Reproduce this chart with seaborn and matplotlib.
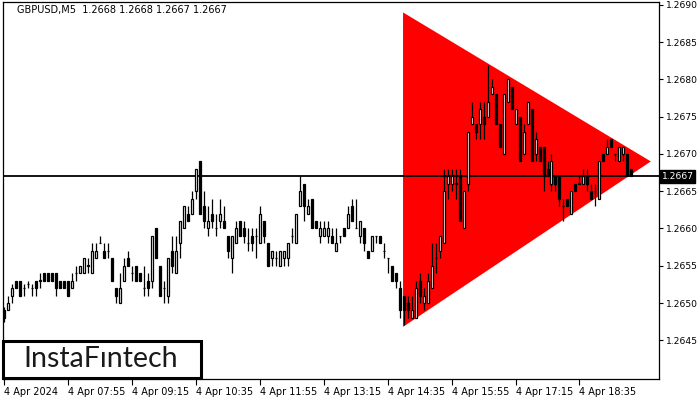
import numpy as np
import pandas as pd
import matplotlib
matplotlib.use("Agg")
import matplotlib.pyplot as plt
import matplotlib.transforms as mtransforms
from matplotlib.patches import Rectangle
import seaborn as sns

# ==============================
# DATOS (GBPUSD M5)
# ==============================
opens = [
    1.2649, 1.2649, 1.2651, 1.2653, 1.2653, 1.2652, 1.26525, 1.2652, 1.2653, 1.2653,
    1.2654, 1.2654, 1.2654, 1.2654, 1.2653, 1.2653, 1.2653, 1.2652, 1.2654, 1.2654,
    1.2654, 1.2655, 1.2654, 1.2656, 1.2658, 1.2657, 1.2657, 1.2656, 1.2652, 1.2650,
    1.2653, 1.2656, 1.2654, 1.2655, 1.2654, 1.2652, 1.2653, 1.2653, 1.2660, 1.2655,
    1.2652, 1.2651, 1.2657, 1.2654, 1.2658, 1.2660, 1.2662, 1.2662, 1.2665, 1.2669,
    1.2663, 1.2660, 1.2662, 1.2660, 1.2661, 1.2661, 1.2659, 1.2656, 1.2658, 1.2661,
    1.2660, 1.2658, 1.2659, 1.2659, 1.2658, 1.2661, 1.2658, 1.2656, 1.2656, 1.2655,
    1.2656, 1.2656, 1.2659, 1.2658, 1.2663, 1.2666, 1.2662, 1.2664, 1.2661, 1.2659,
    1.2659, 1.2659, 1.2659, 1.2657, 1.2659, 1.2660, 1.2660, 1.2663, 1.2660, 1.2659,
    1.2660, 1.2657, 1.2657, 1.2659, 1.2659, 1.2657, 1.2656, 1.2655, 1.2654, 1.2652,
    1.2651, 1.2650, 1.2648, 1.2648, 1.2653, 1.2650, 1.2650, 1.2652, 1.2656, 1.2657,
    1.2658, 1.2666, 1.2666, 1.2666, 1.2667, 1.2660, 1.2666, 1.2674, 1.2674, 1.2674,
    1.2675, 1.2675, 1.2678, 1.2678, 1.2674, 1.2670, 1.2677, 1.2679, 1.2674, 1.2675,
    1.2670, 1.2674, 1.2676, 1.2670, 1.2671, 1.2671, 1.2668, 1.2666, 1.2667, 1.2667,
    1.2663, 1.2664, 1.2662, 1.2666, 1.2666, 1.2666, 1.2667, 1.2665, 1.2665, 1.2664,
    1.2670, 1.2670, 1.2672, 1.2670, 1.2669, 1.2670, 1.2670, 1.2668,
]
highs = [
    1.26495, 1.2651, 1.26525, 1.2653, 1.2653, 1.26525, 1.2653, 1.26525, 1.2653, 1.2654,
    1.2654, 1.2654, 1.2654, 1.2654, 1.2653, 1.2653, 1.2653, 1.2654, 1.2655, 1.2655,
    1.2656, 1.2656, 1.2658, 1.2658, 1.2659, 1.2658, 1.2658, 1.2656, 1.2652, 1.2654,
    1.2656, 1.2657, 1.2655, 1.2655, 1.2654, 1.2655, 1.2654, 1.2659, 1.2660, 1.2655,
    1.2653, 1.2656, 1.2659, 1.2659, 1.2661, 1.2663, 1.2663, 1.2665, 1.2668, 1.2669,
    1.2665, 1.2663, 1.2664, 1.2662, 1.2664, 1.2663, 1.2659, 1.2659, 1.2661, 1.2661,
    1.2661, 1.2660, 1.2660, 1.2660, 1.2663, 1.2661, 1.2658, 1.2657, 1.2657, 1.2657,
    1.2657, 1.2658, 1.2660, 1.2662, 1.2667, 1.2666, 1.2664, 1.2664, 1.2661, 1.2661,
    1.2661, 1.2661, 1.2660, 1.2660, 1.2659, 1.2660, 1.2663, 1.2664, 1.2664, 1.2661,
    1.2660, 1.2657, 1.2659, 1.2659, 1.2659, 1.2658, 1.2656, 1.2655, 1.2654, 1.2653,
    1.2651, 1.2651, 1.2651, 1.2653, 1.2654, 1.2652, 1.2654, 1.2658, 1.2658, 1.2659,
    1.2668, 1.2668, 1.2668, 1.2668, 1.2668, 1.2665, 1.2673, 1.2677, 1.2674, 1.2677,
    1.2677, 1.2682, 1.2680, 1.2678, 1.2674, 1.2678, 1.2680, 1.2679, 1.2676, 1.2675,
    1.2674, 1.2677, 1.2676, 1.2673, 1.2671, 1.2671, 1.2669, 1.2670, 1.2667, 1.2667,
    1.2664, 1.2664, 1.2665, 1.2666, 1.2667, 1.2668, 1.2668, 1.2666, 1.2666, 1.2669,
    1.2670, 1.2672, 1.2672, 1.2670, 1.2671, 1.2671, 1.2670, 1.2668,
]
lows = [
    1.26475, 1.2649, 1.2650, 1.2652, 1.2651, 1.2651, 1.2652, 1.2651, 1.2651, 1.2652,
    1.2653, 1.2653, 1.2653, 1.2651, 1.2652, 1.2652, 1.2651, 1.2652, 1.2653, 1.2654,
    1.2654, 1.2654, 1.2654, 1.2656, 1.2658, 1.2656, 1.2656, 1.2653, 1.2650, 1.2650,
    1.2653, 1.2655, 1.2653, 1.2653, 1.2653, 1.2651, 1.2651, 1.2652, 1.2656, 1.2651,
    1.2650, 1.2650, 1.2654, 1.2654, 1.2656, 1.2660, 1.2661, 1.2662, 1.2664, 1.2662,
    1.2660, 1.2659, 1.2660, 1.2659, 1.2660, 1.2660, 1.2656, 1.2654, 1.2658, 1.2659,
    1.2658, 1.2657, 1.2657, 1.2656, 1.2658, 1.2658, 1.2655, 1.2655, 1.2655, 1.2655,
    1.2655, 1.2655, 1.2658, 1.2658, 1.2663, 1.2661, 1.2662, 1.2660, 1.2660, 1.2658,
    1.2659, 1.2658, 1.2658, 1.2657, 1.2658, 1.2659, 1.2660, 1.2661, 1.2660, 1.2658,
    1.2657, 1.2656, 1.2657, 1.2658, 1.2658, 1.2656, 1.2654, 1.2653, 1.2652, 1.2648,
    1.2647, 1.2648, 1.2648, 1.2648, 1.2650, 1.2649, 1.2650, 1.2652, 1.2654, 1.2656,
    1.2658, 1.2664, 1.2665, 1.2664, 1.2661, 1.2660, 1.2665, 1.2674, 1.2672, 1.2672,
    1.2672, 1.2675, 1.2678, 1.2674, 1.2671, 1.2670, 1.2677, 1.2676, 1.2674, 1.2669,
    1.2670, 1.2674, 1.2669, 1.2669, 1.2669, 1.2665, 1.2667, 1.2665, 1.2665, 1.2663,
    1.2661, 1.2663, 1.2662, 1.2665, 1.2666, 1.2666, 1.2665, 1.2664, 1.2663, 1.2664,
    1.2669, 1.2670, 1.2671, 1.2669, 1.2669, 1.2669, 1.2667, 1.2667,
]
closes = [
    1.2648, 1.2650, 1.2652, 1.2652, 1.2651, 1.2652, 1.26525, 1.2652, 1.2652, 1.2653,
    1.2653, 1.2653, 1.2653, 1.2652, 1.2652, 1.2652, 1.2651, 1.2653, 1.2654, 1.2655,
    1.2656, 1.2655, 1.2657, 1.2657, 1.2658, 1.2656, 1.2657, 1.2653, 1.2651, 1.2652,
    1.2655, 1.2655, 1.2654, 1.2653, 1.2653, 1.2652, 1.2652, 1.2659, 1.2656, 1.2651,
    1.2652, 1.2656, 1.2655, 1.2657, 1.2661, 1.2663, 1.2661, 1.2664, 1.2668, 1.2662,
    1.2661, 1.2661, 1.2661, 1.2660, 1.2662, 1.2660, 1.2657, 1.2659, 1.2660, 1.2659,
    1.2659, 1.2658, 1.2658, 1.2659, 1.2662, 1.2659, 1.2655, 1.2657, 1.2656, 1.2657,
    1.2657, 1.2658, 1.2659, 1.2662, 1.2665, 1.2663, 1.2663, 1.2660, 1.2660, 1.2660,
    1.2660, 1.2660, 1.2658, 1.2658, 1.2659, 1.2659, 1.2662, 1.2661, 1.2660, 1.2661,
    1.2658, 1.2656, 1.2659, 1.2659, 1.2658, 1.2657, 1.2656, 1.2653, 1.2653, 1.2649,
    1.2649, 1.2649, 1.2649, 1.2652, 1.2651, 1.2651, 1.2653, 1.2655, 1.2656, 1.2659,
    1.2665, 1.2667, 1.2667, 1.2666, 1.2661, 1.2665, 1.2673, 1.2675, 1.2673, 1.2676,
    1.2674, 1.2677, 1.2679, 1.2674, 1.2671, 1.2678, 1.2680, 1.2676, 1.2676, 1.2669,
    1.2673, 1.2677, 1.2669, 1.2672, 1.2669, 1.2667, 1.2667, 1.2669, 1.2666, 1.2664,
    1.2663, 1.2663, 1.2665, 1.2665, 1.2666, 1.2667, 1.2666, 1.2664, 1.2665, 1.2669,
    1.2669, 1.2671, 1.2671, 1.2670, 1.2671, 1.2671, 1.2667, 1.2667,
]

tick_bars = [0, 16, 32, 48, 64, 80, 96, 112, 128, 144]
tick_labels = ["4 Apr 2024", "4 Apr 07:55", "4 Apr 09:15", "4 Apr 10:35", "4 Apr 11:55",
               "4 Apr 13:15", "4 Apr 14:35", "4 Apr 15:55", "4 Apr 17:15", "4 Apr 18:35"]
price_ticks = [1.2645, 1.2650, 1.2655, 1.2660, 1.2665, 1.2670, 1.2675, 1.2680, 1.2685, 1.2690]

# triangulo bajista (inicio, fin en barras; precios de los vertices)
pattern_bars = [99.85, 99.85, 161.85]
pattern_prices = [1.26890, 1.26468, 1.26690]

title_text = "GBPUSD,M5  1.2668 1.2668 1.2667 1.2667"
last_price = closes[-1]

df = pd.DataFrame({"open": opens, "high": highs, "low": lows, "close": closes})
df["bar"] = np.arange(len(df))
df["body"] = df["close"] - df["open"]
df.loc[df["body"] == 0, "body"] = 0.000004
df["color"] = np.where(df["close"] >= df["open"], "white", "black")

# ==============================
# VISUALIZACION
# ==============================
sns.set_theme(style="white")
plt.rcParams["font.family"] = ["DejaVu Sans"]

fig = plt.figure(figsize=(7, 4), dpi=100)
ax = fig.add_axes([3 / 700, 21 / 400, 656 / 700, 377 / 400])

ax.fill(pattern_bars, pattern_prices, color="#ff0000", lw=0, zorder=1)
ax.axhline(last_price, color="black", lw=1.3, zorder=2)

ax.vlines(df["bar"], df["low"], df["high"], color="black", lw=0.9, zorder=3)
ax.bar(df["bar"], df["body"], bottom=df["open"], width=0.5,
       color=df["color"], edgecolor="black", linewidth=0.9, zorder=4)

ax.set_xlim(-0.25, 163.9)
ax.set_ylim(1.26398, 1.26904)

ax.yaxis.tick_right()
ax.set_yticks(price_ticks)
ax.set_yticklabels([f"{p:.4f}" for p in price_ticks])
ax.set_xticks(tick_bars)
ax.set_xticklabels(tick_labels)
for lab in ax.get_xticklabels():
    lab.set_horizontalalignment("left")
ax.tick_params(axis="y", right=True, left=False, direction="out", length=3,
               width=0.8, labelsize=6.6, pad=2, colors="black")
ax.tick_params(axis="x", bottom=True, direction="out", length=4,
               width=0.8, labelsize=7, pad=2, colors="black")
ax.grid(False)
for sp in ax.spines.values():
    sp.set_visible(True)
    sp.set_color("black")
    sp.set_linewidth(0.9)

trans = mtransforms.blended_transform_factory(ax.transAxes, ax.transData)
ax.text(1.004, last_price, f"{last_price:.4f}", transform=trans, color="white",
        fontsize=6.6, va="center", ha="left",
        bbox=dict(boxstyle="square,pad=0.2", fc="black", ec="black"))

fig.text(17 / 700, 1 - 10 / 400, title_text, fontsize=7, va="center", ha="left", color="black")

# logo
fig.patches.append(Rectangle((3 / 700, 22 / 400), 198 / 700, 37 / 400, transform=fig.transFigure,
                             fc="white", ec="black", lw=2.2, zorder=10))
fig.text(101 / 700, 1 - 359 / 400, "InstaF\u0131ntech", fontsize=20.5, family=["Lato", "DejaVu Sans"],
         va="center", ha="center", color="#1a1a1a", zorder=11)

fig.savefig("out.png", dpi=100)
